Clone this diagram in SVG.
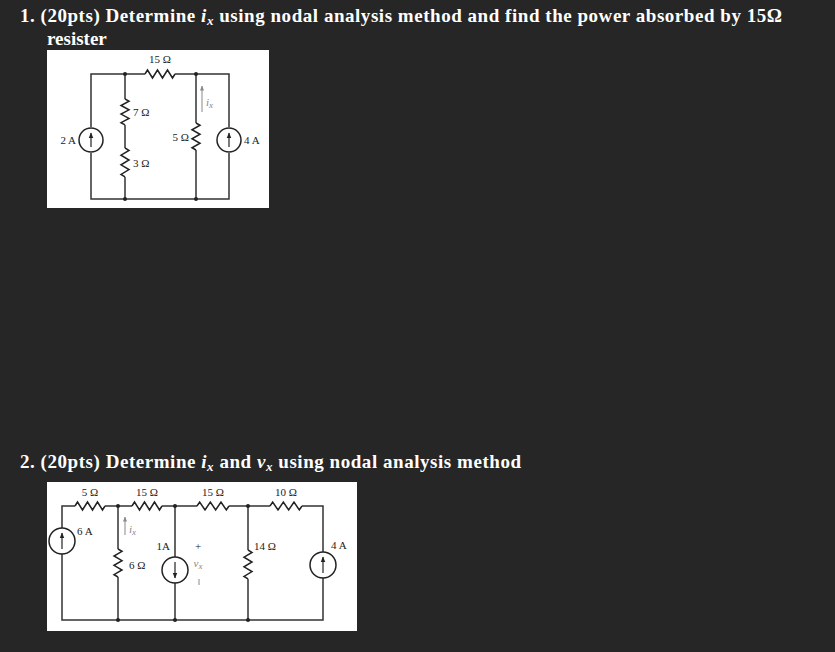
<svg xmlns="http://www.w3.org/2000/svg" width="835" height="652" viewBox="0 0 835 652">
<style>
.h{font-family:"Liberation Serif",serif;font-weight:bold;font-size:19px;fill:#fff}
.w{fill:none;stroke:#333;stroke-width:1.5}
.r{fill:none;stroke:#222;stroke-width:1.5;stroke-linejoin:miter}
.src{fill:#fff;stroke:#222;stroke-width:1.5}
.t{font-family:"Liberation Serif",serif;font-size:11px;fill:#222}
.g{font-family:"Liberation Serif",serif;font-size:11px;fill:#888;font-style:italic}
.d{fill:#222}
</style>
<defs>
<marker id="a" viewBox="0 0 10 10" refX="9" refY="5" markerWidth="5" markerHeight="5" orient="auto"><path d="M0,1 L10,5 L0,9 z" fill="#222"/></marker>
<marker id="ag" viewBox="0 0 10 10" refX="9" refY="5" markerWidth="5" markerHeight="5" orient="auto"><path d="M0,1 L10,5 L0,9 z" fill="#888"/></marker>
</defs>
<rect width="835" height="652" fill="#262626"/>
<text class="h" x="20" y="22" textLength="762" lengthAdjust="spacing">1.  (20pts) Determine <tspan font-style="italic">i<tspan font-size="13" dy="3">x</tspan></tspan><tspan dy="-3"> using nodal analysis method and find the power absorbed by 15Ω</tspan></text>
<text class="h" x="47" y="45">resister</text>
<text class="h" x="20" y="468" textLength="501" lengthAdjust="spacing">2.  (20pts) Determine <tspan font-style="italic">i<tspan font-size="13" dy="3">x</tspan></tspan><tspan dy="-3"> and </tspan><tspan font-style="italic">v<tspan font-size="13" dy="3">x</tspan></tspan><tspan dy="-3"> using nodal analysis method</tspan></text>

<g id="circuit1">
<rect x="47" y="50" width="222" height="158" fill="#fff"/>
<g id="c1-wires">
<path class="w" d="M91,127 V74 H145 M175,74 H229 V127 M91,153 V199 H229 V153 M125,74 V99 M125,125 V148 M125,177 V199 M196,74 V123 M196,150 V199"/>
<circle class="d" cx="125" cy="74" r="2"/><circle class="d" cx="196" cy="74" r="2"/>
<circle class="d" cx="125" cy="199" r="2"/><circle class="d" cx="196" cy="199" r="2"/>
<line x1="202" y1="112" x2="202" y2="86" stroke="#888" stroke-width="1" marker-end="url(#ag)"/>
</g>
<g id="c1-r15"><path class="r" d="M145,74 l2.5,-4 l5,8 l5,-8 l5,8 l5,-8 l5,8 l2.5,-4"/><text class="t" x="160" y="63" text-anchor="middle">15 Ω</text></g>
<g id="c1-r7"><path class="r" d="M125,99 l4,2.2 l-8,4.3 l8,4.3 l-8,4.3 l8,4.3 l-8,4.3 l4,2.1"/><text class="t" x="133" y="116">7 Ω</text></g>
<g id="c1-r3"><path class="r" d="M125,148 l4,2.4 l-8,4.8 l8,4.8 l-8,4.8 l8,4.8 l-8,4.8 l4,2.4"/><text class="t" x="133" y="167">3 Ω</text></g>
<g id="c1-r5"><path class="r" d="M196,123 l4,2.25 l-8,4.5 l8,4.5 l-8,4.5 l8,4.5 l-8,4.5 l4,2.25"/><text class="t" x="189" y="141" text-anchor="end">5 Ω</text></g>
<g id="c1-s2"><circle class="src" cx="91" cy="140" r="12"/><line x1="91" y1="147" x2="91" y2="133" stroke="#222" stroke-width="1.2" marker-end="url(#a)"/><text class="t" x="76" y="144" text-anchor="end">2 A</text></g>
<g id="c1-s4"><circle class="src" cx="229" cy="140" r="12"/><line x1="229" y1="147" x2="229" y2="133" stroke="#222" stroke-width="1.2" marker-end="url(#a)"/><text class="t" x="244" y="144">4 A</text></g>
<text class="g" x="206" y="106">i<tspan font-size="9" dy="2">x</tspan></text>
</g>

<g id="circuit2">
<rect x="47" y="482" width="310" height="149" fill="#fff"/>
<g id="c2-wires">
<path class="w" d="M62,528 V506 H75 M105,506 H132 M162,506 H197 M229,506 H270 M302,506 H323 V552 M62,554 V620 H323 V578 M118,506 V549 M118,577 V620 M175,506 V557 M175,583 V620 M248,506 V550 M248,579 V620"/>
<circle class="d" cx="118" cy="506" r="2"/><circle class="d" cx="175" cy="506" r="2"/><circle class="d" cx="248" cy="506" r="2"/>
<circle class="d" cx="118" cy="620" r="2"/><circle class="d" cx="175" cy="620" r="2"/><circle class="d" cx="248" cy="620" r="2"/>
<line x1="125" y1="535" x2="125" y2="517" stroke="#888" stroke-width="1" marker-end="url(#ag)"/>
</g>
<g id="c2-r5"><path class="r" d="M75,506 l2.5,-4 l5,8 l5,-8 l5,8 l5,-8 l5,8 l2.5,-4"/><text class="t" x="90" y="496" text-anchor="middle">5 Ω</text></g>
<g id="c2-r15a"><path class="r" d="M132,506 l2.5,-4 l5,8 l5,-8 l5,8 l5,-8 l5,8 l2.5,-4"/><text class="t" x="147" y="496" text-anchor="middle">15 Ω</text></g>
<g id="c2-r15b"><path class="r" d="M197,506 l2.67,-4 l5.33,8 l5.33,-8 l5.33,8 l5.33,-8 l5.33,8 l2.67,-4"/><text class="t" x="213" y="496" text-anchor="middle">15 Ω</text></g>
<g id="c2-r10"><path class="r" d="M270,506 l2.67,-4 l5.33,8 l5.33,-8 l5.33,8 l5.33,-8 l5.33,8 l2.67,-4"/><text class="t" x="286" y="496" text-anchor="middle">10 Ω</text></g>
<g id="c2-r6"><path class="r" d="M118,549 l4,2.33 l-8,4.67 l8,4.67 l-8,4.67 l8,4.67 l-8,4.67 l4,2.33"/><text class="t" x="129" y="569">6 Ω</text></g>
<g id="c2-r14"><path class="r" d="M248,550 l4,2.4 l-8,4.8 l8,4.8 l-8,4.8 l8,4.8 l-8,4.8 l4,2.4"/><text class="t" x="254" y="550">14 Ω</text></g>
<g id="c2-s6"><circle class="src" cx="62" cy="541" r="13"/><line x1="62" y1="549" x2="62" y2="533" stroke="#222" stroke-width="1.2" marker-end="url(#a)"/><text class="t" x="77" y="535">6 A</text></g>
<g id="c2-s1"><circle class="src" cx="175" cy="570" r="13"/><line x1="175" y1="562" x2="175" y2="578" stroke="#222" stroke-width="1.2" marker-end="url(#a)"/><text class="t" x="170" y="550" text-anchor="end">1A</text></g>
<g id="c2-s4"><circle class="src" cx="323" cy="565" r="13"/><line x1="323" y1="573" x2="323" y2="557" stroke="#222" stroke-width="1.2" marker-end="url(#a)"/><text class="t" x="331" y="549">4 A</text></g>
<text class="g" x="129" y="533">i<tspan font-size="9" dy="2">x</tspan></text>
<text class="t" x="198" y="550" text-anchor="middle" fill="#888">+</text>
<text class="g" x="198" y="567" text-anchor="middle">v<tspan font-size="9" dy="2">x</tspan></text>
<line x1="199" y1="579" x2="199" y2="585" stroke="#888" stroke-width="1"/>
</g>
</svg>
